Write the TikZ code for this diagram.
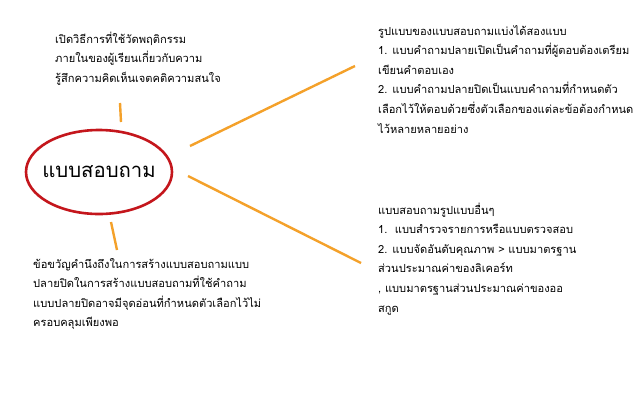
\documentclass[tikz,border=0pt]{standalone}
\usepackage{fontspec}
\usetikzlibrary{shapes.geometric}
\newfontfamily\thaifont[Script=Thai]{Loma}
\definecolor{linkor}{HTML}{F4A12A}
\definecolor{ringred}{HTML}{C4161C}
\begin{document}
\begin{tikzpicture}[x=1pt,y=-1pt,
  txt/.style={anchor=base west,align=left,inner sep=0pt,font=\thaifont\fontsize{11.1}{19.6}\selectfont},
  link/.style={draw=linkor,line width=2.4pt}]
\useasboundingbox[fill=white] (0,0) rectangle (640,400);
\node[draw=ringred,line width=2.6pt,ellipse,minimum width=146,minimum height=84,inner xsep=-6pt,inner ysep=0pt,font=\thaifont\fontsize{20.3}{24}\selectfont] (main) at (99,172) {แบบสอบถาม};
\node[txt] (tl) at (55,82.2) {เปิดวิธีการที่ใช้วัดพฤติกรรม\\ภายในของผู้เรียนเกี่ยวกับความ\\รู้สึกความคิดเห็นเจตคติความสนใจ};
\node[txt] (tr) at (378,133) {รูปแบบของแบบสอบถามแบ่งได้สองแบบ\\1. แบบคำถามปลายเปิดเป็นคำถามที่ผู้ตอบต้องเตรียม\\เขียนคำตอบเอง\\2. แบบคำถามปลายปิดเป็นแบบคำถามที่กำหนดตัว\\เลือกไว้ให้ตอบด้วยซึ่งตัวเลือกของแต่ละข้อต้องกำหนด\\ไว้หลายหลายอย่าง};
\node[txt] (br) at (378,312) {แบบสอบถามรูปแบบอื่นๆ\\1.\ \ แบบสำรวจรายการหรือแบบตรวจสอบ\\2. แบบจัดอันดับคุณภาพ > แบบมาตรฐาน\\ส่วนประมาณค่าของลิเคอร์ท\\, แบบมาตรฐานส่วนประมาณค่าของออ\\สกูด};
\node[txt] (bl) at (33,326.8) {ข้อขวัญคำนึงถึงในการสร้างแบบสอบถามแบบ\\ปลายปิดในการสร้างแบบสอบถามที่ใช้คำถาม\\แบบปลายปิดอาจมีจุดอ่อนที่กำหนดตัวเลือกไว้ไม่\\ครอบคลุมเพียงพอ};
\coordinate (a1) at (120,103); \coordinate (a2) at (121,122);
\coordinate (b1) at (190,146); \coordinate (b2) at (355,66);
\coordinate (c1) at (188,176); \coordinate (c2) at (361,263);
\coordinate (d1) at (111,222); \coordinate (d2) at (117,250);
\draw[link] (a1) -- (a2);
\draw[link] (b1) -- (b2);
\draw[link] (c1) -- (c2);
\draw[link] (d1) -- (d2);
\end{tikzpicture}
\end{document}
